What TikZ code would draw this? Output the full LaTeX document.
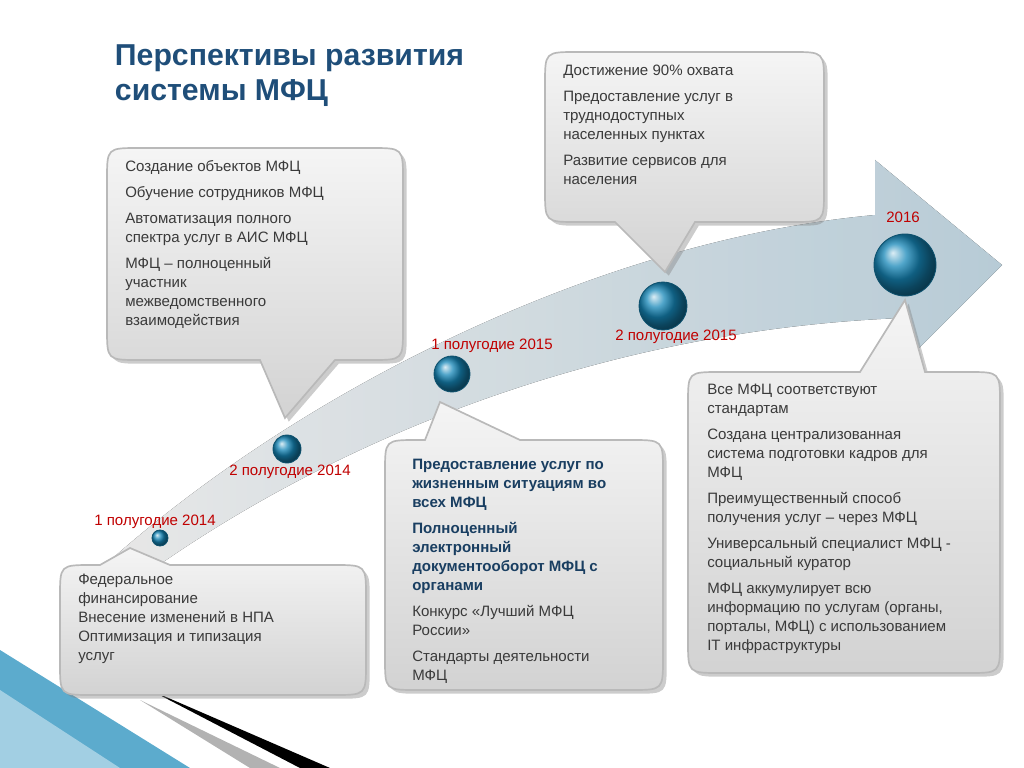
\documentclass[tikz,border=0pt]{standalone}
\usepackage{fontspec}
\setmainfont{Liberation Sans}
\usetikzlibrary{shadows}
\definecolor{titleblue}{HTML}{1F4E79}
\definecolor{datered}{HTML}{C00000}
\definecolor{txtgray}{HTML}{3A3A3A}
\definecolor{ballblue}{HTML}{1687B8}
\definecolor{bandblue}{HTML}{C9E0EC}
\tikzset{
  bubble/.style={draw=gray!55,line width=1.2pt,top color=gray!8,bottom color=gray!35,drop shadow={opacity=0.4}},
  ball/.style={draw=ballblue!60!black,line width=0.6pt,ball color=ballblue},
  datelabel/.style={text=datered,font=\fontsize{10.7}{13}\selectfont,inner sep=0pt},
  bubbletext/.style={anchor=north west,align=left,text=txtgray,inner sep=0pt,font=\fontsize{10.7}{13.5}\selectfont}
}
% x1 y1 x2 y2 pa pb tip ; pointer on bottom
\newcommand{\callout}[7]{%
  \path[bubble] (#1+32,#2) -- (#3-32,#2) .. controls (#3,#2) .. (#3,#2+32)
    -- (#3,#4-32) .. controls (#3,#4) .. (#3-32,#4) -- (#6,#4) -- #7 -- (#5,#4)
    -- (#1+32,#4) .. controls (#1,#4) .. (#1,#4-32) -- (#1,#2+32) .. controls (#1,#2) .. cycle;}
% pointer on top
\newcommand{\calloutup}[7]{%
  \path[bubble] (#1+32,#2) -- (#5,#2) -- #7 -- (#6,#2) -- (#3-32,#2) .. controls (#3,#2) .. (#3,#2+32)
    -- (#3,#4-32) .. controls (#3,#4) .. (#3-32,#4)
    -- (#1+32,#4) .. controls (#1,#4) .. (#1,#4-32) -- (#1,#2+32) .. controls (#1,#2) .. cycle;}
\begin{document}
\begin{tikzpicture}[x=0.025cm,y=-0.025cm]
\useasboundingbox (0,0) rectangle (1024,768);
% corner
\fill[ballblue!70] (0,650) -- (190,768) -- (0,768) -- cycle;
\fill[ballblue!40] (0,690) -- (120,768) -- (0,768) -- cycle;
\fill[black] (150,690) -- (330,768) -- (300,768) -- cycle;
\fill[gray!60] (140,700) -- (280,768) -- (250,768) -- cycle;
% band
\fill[left color=white,right color=bandblue,opacity=0.9]
  (105,565) .. controls (300,390) and (600,240) .. (875,215)
  -- (875,160) -- (1002,265) -- (905,362) -- (902,318)
  .. controls (600,330) and (330,440) .. (135,582) -- cycle;
% title
\node[anchor=north west,align=left,text=titleblue,font=\fontsize{21.5}{25}\selectfont\bfseries] (title) at (110,40) {Перспективы развития\\системы МФЦ};
% balls
\shade[ball] (160,538) circle (8) coordinate (b1);
\shade[ball] (287,449) circle (14) coordinate (b2);
\shade[ball] (452,374) circle (18) coordinate (b3);
\shade[ball] (663,306) circle (24) coordinate (b4);
\shade[ball] (905,265) circle (31) coordinate (b5);
\node[datelabel] (d1) at (155,522) {1 полугодие 2014};
\node[datelabel] (d2) at (290,472) {2 полугодие 2014};
\node[datelabel] (d3) at (492,346) {1 полугодие 2015};
\node[datelabel] (d4) at (676,337) {2 полугодие 2015};
\node[datelabel] (d5) at (903,217) {2016};
% bubbles
\callout{107}{148}{403}{360}{260}{335}{(285,418)}
\callout{545}{52}{824}{222}{615}{695}{(665,272)}
\calloutup{60}{565}{366}{695}{100}{170}{(130,548)}
\calloutup{385}{440}{663}{690}{425}{520}{(440,402)}
\calloutup{688}{372}{1000}{673}{860}{925}{(905,300)}
\node[bubbletext] (t1) at (125,160) {Создание объектов МФЦ\\[5pt]Обучение сотрудников МФЦ\\[5pt]Автоматизация полного\\спектра услуг в АИС МФЦ\\[5pt]МФЦ – полноценный\\участник\\межведомственного\\взаимодействия};
\node[bubbletext] (t2) at (563,65) {Достижение 90\% охвата\\[5pt]Предоставление услуг в\\труднодоступных\\населенных пунктах\\[5pt]Развитие сервисов для\\населения};
\node[bubbletext] (t3) at (78,574) {Федеральное\\финансирование\\Внесение изменений в НПА\\Оптимизация и типизация\\услуг};
\node[bubbletext,text=titleblue!80!black] (t4) at (412,459) {\bfseries Предоставление услуг по\\\bfseries жизненным ситуациям во\\\bfseries всех МФЦ\\[5pt]\bfseries Полноценный\\\bfseries электронный\\\bfseries документооборот МФЦ с\\\bfseries органами\\[5pt]\color{txtgray}Конкурс «Лучший МФЦ\\\color{txtgray}России»\\[5pt]\color{txtgray}Стандарты деятельности\\\color{txtgray}МФЦ};
\node[bubbletext] (t5) at (707,384) {Все МФЦ соответствуют\\стандартам\\[5pt]Создана централизованная\\система подготовки кадров для\\МФЦ\\[5pt]Преимущественный способ\\получения услуг – через МФЦ\\[5pt]Универсальный специалист МФЦ -\\социальный куратор\\[5pt]МФЦ аккумулирует всю\\информацию по услугам (органы,\\порталы, МФЦ) с использованием\\IT инфраструктуры};
\end{tikzpicture}
\end{document}
